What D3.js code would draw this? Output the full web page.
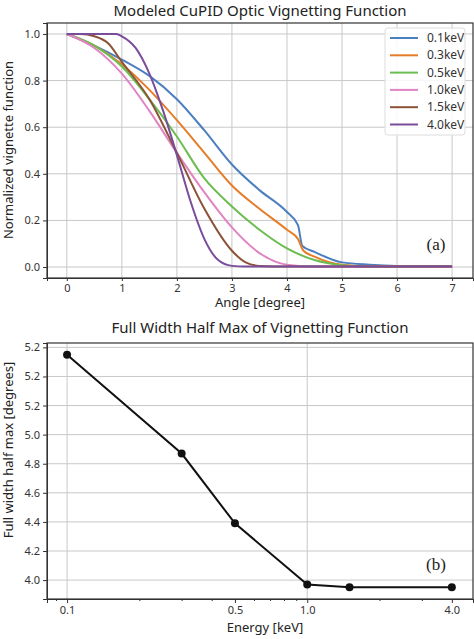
<!DOCTYPE html>
<html><head><meta charset="utf-8">
<script src="https://cdn.jsdelivr.net/npm/d3@7"></script>
<style>
body{margin:0;background:#fff;font-family:"Noto Sans",Lato,sans-serif}
.grid line{stroke:#c8c8c8;stroke-width:1}
.axis text{font-size:11px;fill:#333;font-family:"Noto Sans",sans-serif}
.axis path,.axis line{stroke:#333}
</style></head><body>
<svg id="c" width="474" height="639"></svg>
<script>
// top panel data: [angle, value]
const angleTicks = [0,1,2,3,4,5,6,7];
const valueTicks = [0,0.2,0.4,0.6,0.8,1.0];
const energies = ["0.1keV","0.3keV","0.5keV","1.0keV","1.5keV","4.0keV"];
const colors = ["#4c7fc0","#e57d28","#6cbd50","#e184c4","#8c5237","#7a4c9c"];
const s01 = [[0,1],[0.5,0.95],[1,0.89],[1.5,0.82],[2,0.72],[2.5,0.586],[3,0.44],[3.5,0.33],[4,0.236],[4.2,0.18],[4.28,0.09],[4.5,0.065],[5,0.02],[5.5,0.01],[6,0.005],[7,0.003]];
const s03 = [[0,1],[0.5,0.95],[1,0.87],[1.5,0.76],[2,0.63],[2.5,0.49],[3,0.35],[3.5,0.25],[4,0.16],[4.2,0.12],[4.3,0.07],[4.5,0.045],[5,0.01],[5.5,0.003],[7,0.002]];
const s05 = [[0,1],[0.5,0.95],[1,0.86],[1.5,0.72],[2,0.56],[2.5,0.38],[3,0.26],[3.5,0.16],[4,0.08],[4.5,0.03],[5,0.008],[5.5,0.002],[7,0.002]];
const s10 = [[0,1],[0.5,0.94],[1,0.83],[1.5,0.67],[2,0.49],[2.5,0.32],[3,0.17],[3.5,0.06],[4,0.01],[4.5,0.002],[7,0.002]];
const s15 = [[0,1],[0.25,1],[0.5,0.99],[0.75,0.96],[1,0.88],[1.5,0.72],[2,0.49],[2.5,0.25],[3,0.07],[3.25,0.02],[3.5,0.005],[4,0.002],[7,0.002]];
const s40 = [[0,1],[0.5,1],[0.9,1],[1,0.99],[1.25,0.94],[1.5,0.83],[1.75,0.67],[2,0.48],[2.25,0.28],[2.5,0.12],[2.75,0.03],[3,0.005],[3.25,0.002],[7,0.002]];
const series = [s01,s03,s05,s10,s15,s40];

// bottom panel data
const energyKeV = [0.1,0.3,0.5,1.0,1.5,4.0];
const fwhm = [5.55,4.87,4.39,3.97,3.95,3.95];
const energyTicks = [0.1,0.5,1.0,4.0];
const fwhmTicks = [4.0,4.2,4.4,4.6,4.8,5.0,5.2,5.4,5.6];
const fwhmTickLabels = ["4.0","4.2","4.4","4.6","4.8","5.0","5.2","5.2","5.2"];

const svg = d3.select("#c");
const L = 47, R = 473;

// ---- top panel
const x1 = d3.scaleLinear().domain([-0.36, 7.38]).range([L, R]);
const y1 = d3.scaleLinear().domain([-0.047, 1.047]).range([278, 23]);
const g1 = svg.append("g");
g1.append("g").attr("class","grid").selectAll("line").data(angleTicks).join("line")
  .attr("x1",d=>x1(d)).attr("x2",d=>x1(d)).attr("y1",23).attr("y2",278);
g1.append("g").attr("class","grid").selectAll("line").data(valueTicks).join("line")
  .attr("x1",L).attr("x2",R).attr("y1",d=>y1(d)).attr("y2",d=>y1(d));
g1.append("g").attr("class","axis").attr("transform","translate(0,278)")
  .call(d3.axisBottom(x1).tickValues(angleTicks).tickFormat(d3.format("d")).tickSize(3));
g1.append("g").attr("class","axis").attr("transform",`translate(${L},0)`)
  .call(d3.axisLeft(y1).tickValues(valueTicks).tickFormat(d3.format(".1f")).tickSize(4));
const line1 = d3.line().x(d=>x1(d[0])).y(d=>y1(d[1])).curve(d3.curveMonotoneX);
series.forEach((s,i)=>g1.append("path").datum(s).attr("d",line1)
  .attr("fill","none").attr("stroke",colors[i]).attr("stroke-width",2));
g1.append("rect").attr("x",L).attr("y",23).attr("width",R-L).attr("height",255)
  .attr("fill","none").attr("stroke","#333").attr("stroke-width",1.2);
// legend
const lg = g1.append("g").attr("transform","translate(385,28)");
lg.append("rect").attr("width",80).attr("height",107).attr("rx",3)
  .attr("fill","#fff").attr("fill-opacity",0.85).attr("stroke","#ddd");
energies.forEach((e,i)=>{
  const yy = 10 + i*17.3;
  lg.append("line").attr("x1",5).attr("x2",33).attr("y1",yy).attr("y2",yy)
    .attr("stroke",colors[i]).attr("stroke-width",2);
  lg.append("text").attr("x",42).attr("y",yy+4).attr("font-size",12).attr("fill","#333").text(e);
});
g1.append("text").attr("x",436).attr("y",250).attr("text-anchor","middle")
  .attr("font-family","Liberation Serif,serif").attr("font-size",17).attr("fill","#222").text("(a)");
svg.append("text").attr("x",260).attr("y",16).attr("text-anchor","middle")
  .attr("font-size",15).attr("fill","#222").text("Modeled CuPID Optic Vignetting Function");
svg.append("text").attr("x",260).attr("y",307).attr("text-anchor","middle")
  .attr("font-size",13).attr("fill","#222").text("Angle [degree]");
svg.append("text").attr("transform","translate(13,150) rotate(-90)").attr("text-anchor","middle")
  .attr("font-size",13).attr("fill","#222").text("Normalized vignette function");

// ---- bottom panel
const x2 = d3.scaleLog().domain([0.0825, 4.9]).range([L, R]);
const y2 = d3.scaleLinear().domain([3.87, 5.63]).range([599, 343]);
const g2 = svg.append("g");
g2.append("g").attr("class","grid").selectAll("line").data([0.1,1.0]).join("line")
  .attr("x1",d=>x2(d)).attr("x2",d=>x2(d)).attr("y1",343).attr("y2",599);
g2.append("g").attr("class","grid").selectAll("line").data(fwhmTicks).join("line")
  .attr("x1",L).attr("x2",R).attr("y1",d=>y2(d)).attr("y2",d=>y2(d));
const minor = [0.09,0.2,0.3,0.4,0.6,0.7,0.8,0.9,2,3];
g2.append("g").attr("class","axis").attr("transform","translate(0,599)")
  .call(d3.axisBottom(x2).tickValues(minor).tickFormat("").tickSize(2));
g2.append("g").attr("class","axis").attr("transform","translate(0,599)")
  .call(d3.axisBottom(x2).tickValues(energyTicks).tickFormat(d3.format(".1f")).tickSize(4));
g2.append("g").attr("class","axis").attr("transform",`translate(${L},0)`)
  .call(d3.axisLeft(y2).tickValues(fwhmTicks).tickFormat((d,i)=>fwhmTickLabels[i]).tickSize(4));
const pts = energyKeV.map((e,i)=>[e,fwhm[i]]);
g2.append("path").datum(pts).attr("fill","none").attr("stroke","#111").attr("stroke-width",2)
  .attr("d",d3.line().x(d=>x2(d[0])).y(d=>y2(d[1])));
g2.selectAll("circle").data(pts).join("circle").attr("cx",d=>x2(d[0])).attr("cy",d=>y2(d[1]))
  .attr("r",4).attr("fill","#111");
g2.append("rect").attr("x",L).attr("y",343).attr("width",R-L).attr("height",256)
  .attr("fill","none").attr("stroke","#333").attr("stroke-width",1.2);
g2.append("text").attr("x",436).attr("y",570).attr("text-anchor","middle")
  .attr("font-family","Liberation Serif,serif").attr("font-size",17).attr("fill","#222").text("(b)");
svg.append("text").attr("x",260).attr("y",333).attr("text-anchor","middle")
  .attr("font-size",15).attr("fill","#222").text("Full Width Half Max of Vignetting Function");
svg.append("text").attr("x",265).attr("y",632).attr("text-anchor","middle")
  .attr("font-size",13).attr("fill","#222").text("Energy [keV]");
svg.append("text").attr("transform","translate(13,450) rotate(-90)").attr("text-anchor","middle")
  .attr("font-size",13).attr("fill","#222").text("Full width half max [degrees]");
</script></body></html>
